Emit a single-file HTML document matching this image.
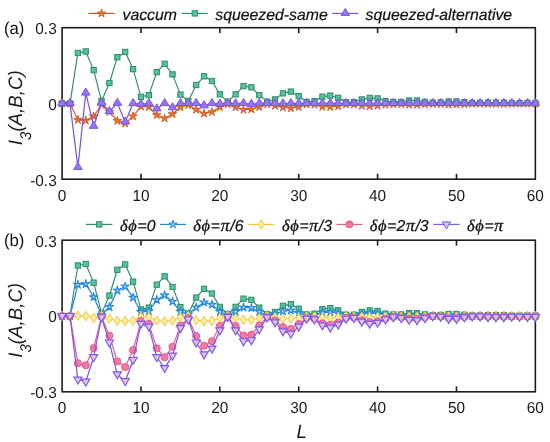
<!DOCTYPE html>
<html lang="en">
<head>
<meta charset="utf-8">
<title>I3(A,B,C) versus L</title>
<style>
html,body{margin:0;padding:0;background:#ffffff;}
body{width:550px;height:442px;overflow:hidden;}
svg{display:block;}
svg text{font-family:"Liberation Sans",sans-serif;fill:#1a1a1a;text-rendering:geometricPrecision;}
.tk text{font-size:15.4px;}
.lg text{font-size:15.8px;font-style:italic;fill:#111111;stroke:#111111;stroke-width:0.22px;}
.lab{font-size:18.7px;font-style:italic;}
.sub{font-size:15px;}
.gk{font-family:"Liberation Serif",serif;font-size:16.4px;letter-spacing:0.7px;font-weight:normal;stroke:#111111;stroke-width:0.3px;}
.pi{font-size:17.6px;}
.pl{font-size:16.8px;fill:#111111;}
</style>
</head>
<body>
<svg width="550" height="442" viewBox="0 0 550 442">
<rect width="550" height="442" fill="#ffffff"/>
<g stroke="#1c1c1c" stroke-width="1.6" fill="none" stroke-linecap="butt">
<rect x="62.1" y="27.7" width="473.25" height="151.5"/>
<line x1="140.97" y1="27.7" x2="140.97" y2="33.1"/>
<line x1="140.97" y1="179.2" x2="140.97" y2="173.8"/>
<line x1="219.85" y1="27.7" x2="219.85" y2="33.1"/>
<line x1="219.85" y1="179.2" x2="219.85" y2="173.8"/>
<line x1="298.73" y1="27.7" x2="298.73" y2="33.1"/>
<line x1="298.73" y1="179.2" x2="298.73" y2="173.8"/>
<line x1="377.6" y1="27.7" x2="377.6" y2="33.1"/>
<line x1="377.6" y1="179.2" x2="377.6" y2="173.8"/>
<line x1="456.48" y1="27.7" x2="456.48" y2="33.1"/>
<line x1="456.48" y1="179.2" x2="456.48" y2="173.8"/>
<line x1="62.1" y1="103.45" x2="67.5" y2="103.45"/>
<line x1="535.35" y1="103.45" x2="529.95" y2="103.45"/>
</g>
<g>
<polyline fill="none" stroke="#d2591c" stroke-width="1.15" stroke-linejoin="round" points="62.1,103.45 69.99,103.45 77.88,119.86 85.76,120.62 93.65,116.33 101.54,104.71 109.43,111.78 117.31,120.87 125.2,123.4 133.09,116.33 140.97,106.48 148.86,106.98 156.75,115.06 164.64,118.35 172.53,114.05 180.41,107.24 188.3,104.96 196.19,109.76 204.07,113.55 211.96,112.03 219.85,107.24 227.74,104.21 235.62,107.24 243.51,109.76 251.4,109.26 259.29,106.98 267.18,104.21 275.06,105.72 282.95,107.49 290.84,108.25 298.73,106.98 306.61,104.46 314.5,104.71 322.39,106.73 330.28,106.98 338.16,106.23 346.05,104.46 353.94,104.46 361.83,105.72 369.71,106.23 377.6,105.72 385.49,104.71 393.38,104.21 401.26,104.21 409.15,104.71 417.04,104.71 424.93,104.21 432.81,103.95 440.7,103.95 448.59,104.46 456.48,104.46 464.36,104.21 472.25,103.7 480.14,103.7 488.03,103.95 495.91,103.95 503.8,103.95 511.69,103.7 519.58,103.7 527.46,103.7 535.35,103.7"/>
<g fill="#ee763a" stroke="#d2591c" stroke-width="1.0" stroke-linejoin="miter">
<path stroke-linejoin="round" d="M62.1 99.05L62.92 102.32L66.28 102.09L63.43 103.88L64.69 107.01L62.1 104.85L59.51 107.01L60.77 103.88L57.92 102.09L61.28 102.32Z"/>
<path stroke-linejoin="round" d="M69.99 99.05L70.81 102.32L74.17 102.09L71.32 103.88L72.57 107.01L69.99 104.85L67.4 107.01L68.66 103.88L65.8 102.09L69.16 102.32Z"/>
<path stroke-linejoin="round" d="M77.88 115.46L78.7 118.73L82.06 118.5L79.21 120.3L80.46 123.42L77.88 121.26L75.29 123.42L76.54 120.3L73.69 118.5L77.05 118.73Z"/>
<path stroke-linejoin="round" d="M85.76 116.22L86.59 119.49L89.95 119.26L87.09 121.05L88.35 124.18L85.76 122.02L83.18 124.18L84.43 121.05L81.58 119.26L84.94 119.49Z"/>
<path stroke-linejoin="round" d="M93.65 111.93L94.47 115.19L97.83 114.97L94.98 116.76L96.24 119.89L93.65 117.73L91.06 119.89L92.32 116.76L89.47 114.97L92.83 115.19Z"/>
<path stroke-linejoin="round" d="M101.54 100.31L102.36 103.58L105.72 103.35L102.87 105.15L104.12 108.27L101.54 106.11L98.95 108.27L100.21 105.15L97.35 103.35L100.71 103.58Z"/>
<path stroke-linejoin="round" d="M109.43 107.38L110.25 110.65L113.61 110.42L110.76 112.22L112.01 115.34L109.43 113.18L106.84 115.34L108.09 112.22L105.24 110.42L108.6 110.65Z"/>
<path stroke-linejoin="round" d="M117.31 116.47L118.14 119.74L121.5 119.51L118.64 121.31L119.9 124.43L117.31 122.27L114.73 124.43L115.98 121.31L113.13 119.51L116.49 119.74Z"/>
<path stroke-linejoin="round" d="M125.2 119L126.02 122.26L129.38 122.04L126.53 123.83L127.79 126.96L125.2 124.8L122.61 126.96L123.87 123.83L121.02 122.04L124.38 122.26Z"/>
<path stroke-linejoin="round" d="M133.09 111.93L133.91 115.19L137.27 114.97L134.42 116.76L135.67 119.89L133.09 117.73L130.5 119.89L131.76 116.76L128.9 114.97L132.26 115.19Z"/>
<path stroke-linejoin="round" d="M140.97 102.08L141.8 105.35L145.16 105.12L142.31 106.91L143.56 110.04L140.97 107.88L138.39 110.04L139.64 106.91L136.79 105.12L140.15 105.35Z"/>
<path stroke-linejoin="round" d="M148.86 102.58L149.69 105.85L153.05 105.63L150.19 107.42L151.45 110.54L148.86 108.38L146.28 110.54L147.53 107.42L144.68 105.63L148.04 105.85Z"/>
<path stroke-linejoin="round" d="M156.75 110.66L157.57 113.93L160.93 113.71L158.08 115.5L159.34 118.62L156.75 116.46L154.16 118.62L155.42 115.5L152.57 113.71L155.93 113.93Z"/>
<path stroke-linejoin="round" d="M164.64 113.95L165.46 117.21L168.82 116.99L165.97 118.78L167.22 121.91L164.64 119.75L162.05 121.91L163.31 118.78L160.45 116.99L163.81 117.21Z"/>
<path stroke-linejoin="round" d="M172.53 109.65L173.35 112.92L176.71 112.7L173.86 114.49L175.11 117.61L172.53 115.45L169.94 117.61L171.19 114.49L168.34 112.7L171.7 112.92Z"/>
<path stroke-linejoin="round" d="M180.41 102.84L181.24 106.1L184.6 105.88L181.74 107.67L183 110.8L180.41 108.64L177.83 110.8L179.08 107.67L176.23 105.88L179.59 106.1Z"/>
<path stroke-linejoin="round" d="M188.3 100.56L189.12 103.83L192.48 103.61L189.63 105.4L190.89 108.52L188.3 106.36L185.71 108.52L186.97 105.4L184.12 103.61L187.48 103.83Z"/>
<path stroke-linejoin="round" d="M196.19 105.36L197.01 108.63L200.37 108.4L197.52 110.2L198.77 113.32L196.19 111.16L193.6 113.32L194.86 110.2L192 108.4L195.36 108.63Z"/>
<path stroke-linejoin="round" d="M204.07 109.15L204.9 112.42L208.26 112.19L205.41 113.98L206.66 117.11L204.07 114.95L201.49 117.11L202.74 113.98L199.89 112.19L203.25 112.42Z"/>
<path stroke-linejoin="round" d="M211.96 107.63L212.79 110.9L216.15 110.68L213.29 112.47L214.55 115.59L211.96 113.44L209.38 115.59L210.63 112.47L207.78 110.68L211.14 110.9Z"/>
<path stroke-linejoin="round" d="M219.85 102.84L220.67 106.1L224.03 105.88L221.18 107.67L222.44 110.8L219.85 108.64L217.26 110.8L218.52 107.67L215.67 105.88L219.03 106.1Z"/>
<path stroke-linejoin="round" d="M227.74 99.81L228.56 103.07L231.92 102.85L229.07 104.64L230.32 107.77L227.74 105.61L225.15 107.77L226.41 104.64L223.55 102.85L226.91 103.07Z"/>
<path stroke-linejoin="round" d="M235.62 102.84L236.45 106.1L239.81 105.88L236.96 107.67L238.21 110.8L235.62 108.64L233.04 110.8L234.29 107.67L231.44 105.88L234.8 106.1Z"/>
<path stroke-linejoin="round" d="M243.51 105.36L244.34 108.63L247.7 108.4L244.84 110.2L246.1 113.32L243.51 111.16L240.93 113.32L242.18 110.2L239.33 108.4L242.69 108.63Z"/>
<path stroke-linejoin="round" d="M251.4 104.86L252.22 108.12L255.58 107.9L252.73 109.69L253.99 112.82L251.4 110.66L248.81 112.82L250.07 109.69L247.22 107.9L250.58 108.12Z"/>
<path stroke-linejoin="round" d="M259.29 102.58L260.11 105.85L263.47 105.63L260.62 107.42L261.87 110.54L259.29 108.38L256.7 110.54L257.96 107.42L255.1 105.63L258.46 105.85Z"/>
<path stroke-linejoin="round" d="M267.18 99.81L268 103.07L271.36 102.85L268.51 104.64L269.76 107.77L267.18 105.61L264.59 107.77L265.84 104.64L262.99 102.85L266.35 103.07Z"/>
<path stroke-linejoin="round" d="M275.06 101.32L275.89 104.59L279.25 104.36L276.39 106.16L277.65 109.28L275.06 107.12L272.48 109.28L273.73 106.16L270.88 104.36L274.24 104.59Z"/>
<path stroke-linejoin="round" d="M282.95 103.09L283.77 106.36L287.13 106.13L284.28 107.92L285.54 111.05L282.95 108.89L280.36 111.05L281.62 107.92L278.77 106.13L282.13 106.36Z"/>
<path stroke-linejoin="round" d="M290.84 103.85L291.66 107.11L295.02 106.89L292.17 108.68L293.42 111.81L290.84 109.65L288.25 111.81L289.51 108.68L286.65 106.89L290.01 107.11Z"/>
<path stroke-linejoin="round" d="M298.73 102.58L299.55 105.85L302.91 105.63L300.06 107.42L301.31 110.54L298.73 108.38L296.14 110.54L297.39 107.42L294.54 105.63L297.9 105.85Z"/>
<path stroke-linejoin="round" d="M306.61 100.06L307.44 103.33L310.8 103.1L307.94 104.89L309.2 108.02L306.61 105.86L304.03 108.02L305.28 104.89L302.43 103.1L305.79 103.33Z"/>
<path stroke-linejoin="round" d="M314.5 100.31L315.32 103.58L318.68 103.35L315.83 105.15L317.09 108.27L314.5 106.11L311.91 108.27L313.17 105.15L310.32 103.35L313.68 103.58Z"/>
<path stroke-linejoin="round" d="M322.39 102.33L323.21 105.6L326.57 105.37L323.72 107.17L324.97 110.29L322.39 108.13L319.8 110.29L321.06 107.17L318.2 105.37L321.56 105.6Z"/>
<path stroke-linejoin="round" d="M330.28 102.58L331.1 105.85L334.46 105.63L331.61 107.42L332.86 110.54L330.28 108.38L327.69 110.54L328.94 107.42L326.09 105.63L329.45 105.85Z"/>
<path stroke-linejoin="round" d="M338.16 101.83L338.99 105.09L342.35 104.87L339.49 106.66L340.75 109.79L338.16 107.63L335.58 109.79L336.83 106.66L333.98 104.87L337.34 105.09Z"/>
<path stroke-linejoin="round" d="M346.05 100.06L346.87 103.33L350.23 103.1L347.38 104.89L348.64 108.02L346.05 105.86L343.46 108.02L344.72 104.89L341.87 103.1L345.23 103.33Z"/>
<path stroke-linejoin="round" d="M353.94 100.06L354.76 103.33L358.12 103.1L355.27 104.89L356.52 108.02L353.94 105.86L351.35 108.02L352.61 104.89L349.75 103.1L353.11 103.33Z"/>
<path stroke-linejoin="round" d="M361.83 101.32L362.65 104.59L366.01 104.36L363.16 106.16L364.41 109.28L361.83 107.12L359.24 109.28L360.49 106.16L357.64 104.36L361 104.59Z"/>
<path stroke-linejoin="round" d="M369.71 101.83L370.54 105.09L373.9 104.87L371.04 106.66L372.3 109.79L369.71 107.63L367.13 109.79L368.38 106.66L365.53 104.87L368.89 105.09Z"/>
<path stroke-linejoin="round" d="M377.6 101.32L378.42 104.59L381.78 104.36L378.93 106.16L380.19 109.28L377.6 107.12L375.01 109.28L376.27 106.16L373.42 104.36L376.78 104.59Z"/>
<path stroke-linejoin="round" d="M385.49 100.31L386.31 103.58L389.67 103.35L386.82 105.15L388.07 108.27L385.49 106.11L382.9 108.27L384.16 105.15L381.3 103.35L384.66 103.58Z"/>
<path stroke-linejoin="round" d="M393.38 99.81L394.2 103.07L397.56 102.85L394.71 104.64L395.96 107.77L393.38 105.61L390.79 107.77L392.04 104.64L389.19 102.85L392.55 103.07Z"/>
<path stroke-linejoin="round" d="M401.26 99.81L402.09 103.07L405.45 102.85L402.59 104.64L403.85 107.77L401.26 105.61L398.68 107.77L399.93 104.64L397.08 102.85L400.44 103.07Z"/>
<path stroke-linejoin="round" d="M409.15 100.31L409.97 103.58L413.33 103.35L410.48 105.15L411.74 108.27L409.15 106.11L406.56 108.27L407.82 105.15L404.97 103.35L408.33 103.58Z"/>
<path stroke-linejoin="round" d="M417.04 100.31L417.86 103.58L421.22 103.35L418.37 105.15L419.62 108.27L417.04 106.11L414.45 108.27L415.71 105.15L412.85 103.35L416.21 103.58Z"/>
<path stroke-linejoin="round" d="M424.93 99.81L425.75 103.07L429.11 102.85L426.26 104.64L427.51 107.77L424.93 105.61L422.34 107.77L423.59 104.64L420.74 102.85L424.1 103.07Z"/>
<path stroke-linejoin="round" d="M432.81 99.55L433.64 102.82L437 102.6L434.14 104.39L435.4 107.51L432.81 105.35L430.23 107.51L431.48 104.39L428.63 102.6L431.99 102.82Z"/>
<path stroke-linejoin="round" d="M440.7 99.55L441.52 102.82L444.88 102.6L442.03 104.39L443.29 107.51L440.7 105.35L438.11 107.51L439.37 104.39L436.52 102.6L439.88 102.82Z"/>
<path stroke-linejoin="round" d="M448.59 100.06L449.41 103.33L452.77 103.1L449.92 104.89L451.17 108.02L448.59 105.86L446 108.02L447.26 104.89L444.4 103.1L447.76 103.33Z"/>
<path stroke-linejoin="round" d="M456.48 100.06L457.3 103.33L460.66 103.1L457.81 104.89L459.06 108.02L456.48 105.86L453.89 108.02L455.14 104.89L452.29 103.1L455.65 103.33Z"/>
<path stroke-linejoin="round" d="M464.36 99.81L465.19 103.07L468.55 102.85L465.69 104.64L466.95 107.77L464.36 105.61L461.78 107.77L463.03 104.64L460.18 102.85L463.54 103.07Z"/>
<path stroke-linejoin="round" d="M472.25 99.3L473.07 102.57L476.43 102.34L473.58 104.14L474.84 107.26L472.25 105.1L469.66 107.26L470.92 104.14L468.07 102.34L471.43 102.57Z"/>
<path stroke-linejoin="round" d="M480.14 99.3L480.96 102.57L484.32 102.34L481.47 104.14L482.72 107.26L480.14 105.1L477.55 107.26L478.81 104.14L475.95 102.34L479.31 102.57Z"/>
<path stroke-linejoin="round" d="M488.03 99.55L488.85 102.82L492.21 102.6L489.36 104.39L490.61 107.51L488.03 105.35L485.44 107.51L486.69 104.39L483.84 102.6L487.2 102.82Z"/>
<path stroke-linejoin="round" d="M495.91 99.55L496.74 102.82L500.1 102.6L497.24 104.39L498.5 107.51L495.91 105.35L493.33 107.51L494.58 104.39L491.73 102.6L495.09 102.82Z"/>
<path stroke-linejoin="round" d="M503.8 99.55L504.62 102.82L507.98 102.6L505.13 104.39L506.39 107.51L503.8 105.35L501.21 107.51L502.47 104.39L499.62 102.6L502.98 102.82Z"/>
<path stroke-linejoin="round" d="M511.69 99.3L512.51 102.57L515.87 102.34L513.02 104.14L514.27 107.26L511.69 105.1L509.1 107.26L510.36 104.14L507.5 102.34L510.86 102.57Z"/>
<path stroke-linejoin="round" d="M519.58 99.3L520.4 102.57L523.76 102.34L520.91 104.14L522.16 107.26L519.58 105.1L516.99 107.26L518.24 104.14L515.39 102.34L518.75 102.57Z"/>
<path stroke-linejoin="round" d="M527.46 99.3L528.29 102.57L531.65 102.34L528.79 104.14L530.05 107.26L527.46 105.1L524.88 107.26L526.13 104.14L523.28 102.34L526.64 102.57Z"/>
<path stroke-linejoin="round" d="M535.35 99.3L536.17 102.57L539.53 102.34L536.68 104.14L537.94 107.26L535.35 105.1L532.76 107.26L534.02 104.14L531.17 102.34L534.53 102.57Z"/>
</g></g>
<g>
<polyline fill="none" stroke="#2f8c69" stroke-width="1.15" stroke-linejoin="round" points="62.1,103.45 69.99,103.45 77.88,52.95 85.76,51.43 93.65,70.12 101.54,100.92 109.43,83 117.31,57.24 125.2,51.94 133.09,69.11 140.97,96.88 148.86,95.12 156.75,72.14 164.64,63.81 172.53,74.41 180.41,94.61 188.3,100.92 196.19,85.02 204.07,76.31 211.96,80.98 219.85,94.36 227.74,101.68 235.62,94.36 243.51,86.15 251.4,87.29 259.29,95.12 267.18,101.68 275.06,99.41 282.95,93.35 290.84,91.58 298.73,96.13 306.61,101.93 314.5,101.18 322.39,96.63 330.28,95.62 338.16,97.77 346.05,102.19 353.94,102.19 361.83,99.41 369.71,97.89 377.6,98.4 385.49,101.18 393.38,101.93 401.26,101.93 409.15,100.55 417.04,100.55 424.93,101.93 432.81,102.69 440.7,102.44 448.59,101.48 456.48,101.48 464.36,102.19 472.25,102.94 480.14,102.94 488.03,102.57 495.91,102.57 503.8,102.69 511.69,103.07 519.58,103.07 527.46,102.94 535.35,102.94"/>
<g fill="#53c49c" stroke="#2f8c69" stroke-width="1.0" stroke-linejoin="miter">
<rect x="59.45" y="100.8" width="5.3" height="5.3"/>
<rect x="67.34" y="100.8" width="5.3" height="5.3"/>
<rect x="75.22" y="50.3" width="5.3" height="5.3"/>
<rect x="83.11" y="48.78" width="5.3" height="5.3"/>
<rect x="91" y="67.47" width="5.3" height="5.3"/>
<rect x="98.89" y="98.27" width="5.3" height="5.3"/>
<rect x="106.78" y="80.35" width="5.3" height="5.3"/>
<rect x="114.66" y="54.59" width="5.3" height="5.3"/>
<rect x="122.55" y="49.29" width="5.3" height="5.3"/>
<rect x="130.44" y="66.46" width="5.3" height="5.3"/>
<rect x="138.32" y="94.23" width="5.3" height="5.3"/>
<rect x="146.21" y="92.47" width="5.3" height="5.3"/>
<rect x="154.1" y="69.49" width="5.3" height="5.3"/>
<rect x="161.99" y="61.16" width="5.3" height="5.3"/>
<rect x="169.88" y="71.76" width="5.3" height="5.3"/>
<rect x="177.76" y="91.96" width="5.3" height="5.3"/>
<rect x="185.65" y="98.27" width="5.3" height="5.3"/>
<rect x="193.54" y="82.37" width="5.3" height="5.3"/>
<rect x="201.42" y="73.66" width="5.3" height="5.3"/>
<rect x="209.31" y="78.33" width="5.3" height="5.3"/>
<rect x="217.2" y="91.71" width="5.3" height="5.3"/>
<rect x="225.09" y="99.03" width="5.3" height="5.3"/>
<rect x="232.97" y="91.71" width="5.3" height="5.3"/>
<rect x="240.86" y="83.5" width="5.3" height="5.3"/>
<rect x="248.75" y="84.64" width="5.3" height="5.3"/>
<rect x="256.64" y="92.47" width="5.3" height="5.3"/>
<rect x="264.53" y="99.03" width="5.3" height="5.3"/>
<rect x="272.41" y="96.76" width="5.3" height="5.3"/>
<rect x="280.3" y="90.7" width="5.3" height="5.3"/>
<rect x="288.19" y="88.93" width="5.3" height="5.3"/>
<rect x="296.08" y="93.48" width="5.3" height="5.3"/>
<rect x="303.96" y="99.28" width="5.3" height="5.3"/>
<rect x="311.85" y="98.53" width="5.3" height="5.3"/>
<rect x="319.74" y="93.98" width="5.3" height="5.3"/>
<rect x="327.63" y="92.97" width="5.3" height="5.3"/>
<rect x="335.51" y="95.12" width="5.3" height="5.3"/>
<rect x="343.4" y="99.54" width="5.3" height="5.3"/>
<rect x="351.29" y="99.54" width="5.3" height="5.3"/>
<rect x="359.18" y="96.76" width="5.3" height="5.3"/>
<rect x="367.06" y="95.24" width="5.3" height="5.3"/>
<rect x="374.95" y="95.75" width="5.3" height="5.3"/>
<rect x="382.84" y="98.53" width="5.3" height="5.3"/>
<rect x="390.73" y="99.28" width="5.3" height="5.3"/>
<rect x="398.61" y="99.28" width="5.3" height="5.3"/>
<rect x="406.5" y="97.9" width="5.3" height="5.3"/>
<rect x="414.39" y="97.9" width="5.3" height="5.3"/>
<rect x="422.28" y="99.28" width="5.3" height="5.3"/>
<rect x="430.16" y="100.04" width="5.3" height="5.3"/>
<rect x="438.05" y="99.79" width="5.3" height="5.3"/>
<rect x="445.94" y="98.83" width="5.3" height="5.3"/>
<rect x="453.83" y="98.83" width="5.3" height="5.3"/>
<rect x="461.71" y="99.54" width="5.3" height="5.3"/>
<rect x="469.6" y="100.29" width="5.3" height="5.3"/>
<rect x="477.49" y="100.29" width="5.3" height="5.3"/>
<rect x="485.38" y="99.92" width="5.3" height="5.3"/>
<rect x="493.26" y="99.92" width="5.3" height="5.3"/>
<rect x="501.15" y="100.04" width="5.3" height="5.3"/>
<rect x="509.04" y="100.42" width="5.3" height="5.3"/>
<rect x="516.93" y="100.42" width="5.3" height="5.3"/>
<rect x="524.81" y="100.29" width="5.3" height="5.3"/>
<rect x="532.7" y="100.29" width="5.3" height="5.3"/>
</g></g>
<g>
<polyline fill="none" stroke="#7a55e6" stroke-width="1.25" stroke-linejoin="round" points="62.1,103.45 69.99,103.45 77.88,167.33 85.76,92.97 93.65,126.17 101.54,103.2 109.43,111.53 117.31,103.2 125.2,121.88 133.09,103.45 140.97,104.21 148.86,103.45 156.75,108.75 164.64,103.45 172.53,107.62 180.41,103.45 188.3,103.45 196.19,103.45 204.07,105.72 211.96,103.45 219.85,103.95 227.74,103.45 235.62,103.7 243.51,103.45 251.4,104.21 259.29,103.45 267.18,103.45 275.06,103.45 282.95,103.7 290.84,103.45 298.73,103.45 306.61,103.45 314.5,103.45 322.39,103.45 330.28,103.45 338.16,103.45 346.05,103.45 353.94,103.45 361.83,103.45 369.71,103.45 377.6,103.45 385.49,103.45 393.38,103.45 401.26,103.45 409.15,103.45 417.04,103.45 424.93,103.45 432.81,103.45 440.7,103.45 448.59,103.45 456.48,103.45 464.36,103.45 472.25,103.45 480.14,103.45 488.03,103.45 495.91,103.45 503.8,103.45 511.69,103.45 519.58,103.45 527.46,103.45 535.35,103.45"/>
<g fill="#9873f2" stroke="#7a55e6" stroke-width="1.0" stroke-linejoin="miter">
<path d="M62.1 98.5L66.4 105.6L57.8 105.6Z"/>
<path d="M69.99 98.5L74.29 105.6L65.69 105.6Z"/>
<path d="M77.88 162.38L82.17 169.48L73.58 169.48Z"/>
<path d="M85.76 88.02L90.06 95.12L81.46 95.12Z"/>
<path d="M93.65 121.22L97.95 128.32L89.35 128.32Z"/>
<path d="M101.54 98.25L105.84 105.35L97.24 105.35Z"/>
<path d="M109.43 106.58L113.73 113.68L105.13 113.68Z"/>
<path d="M117.31 98.25L121.61 105.35L113.01 105.35Z"/>
<path d="M125.2 116.93L129.5 124.03L120.9 124.03Z"/>
<path d="M133.09 98.5L137.39 105.6L128.79 105.6Z"/>
<path d="M140.97 99.26L145.28 106.36L136.67 106.36Z"/>
<path d="M148.86 98.5L153.16 105.6L144.56 105.6Z"/>
<path d="M156.75 103.8L161.05 110.9L152.45 110.9Z"/>
<path d="M164.64 98.5L168.94 105.6L160.34 105.6Z"/>
<path d="M172.53 102.67L176.83 109.77L168.22 109.77Z"/>
<path d="M180.41 98.5L184.71 105.6L176.11 105.6Z"/>
<path d="M188.3 98.5L192.6 105.6L184 105.6Z"/>
<path d="M196.19 98.5L200.49 105.6L191.89 105.6Z"/>
<path d="M204.07 100.77L208.38 107.87L199.77 107.87Z"/>
<path d="M211.96 98.5L216.26 105.6L207.66 105.6Z"/>
<path d="M219.85 99L224.15 106.1L215.55 106.1Z"/>
<path d="M227.74 98.5L232.04 105.6L223.44 105.6Z"/>
<path d="M235.62 98.75L239.93 105.85L231.32 105.85Z"/>
<path d="M243.51 98.5L247.81 105.6L239.21 105.6Z"/>
<path d="M251.4 99.26L255.7 106.36L247.1 106.36Z"/>
<path d="M259.29 98.5L263.59 105.6L254.99 105.6Z"/>
<path d="M267.18 98.5L271.48 105.6L262.88 105.6Z"/>
<path d="M275.06 98.5L279.36 105.6L270.76 105.6Z"/>
<path d="M282.95 98.75L287.25 105.85L278.65 105.85Z"/>
<path d="M290.84 98.5L295.14 105.6L286.54 105.6Z"/>
<path d="M298.73 98.5L303.03 105.6L294.43 105.6Z"/>
<path d="M306.61 98.5L310.91 105.6L302.31 105.6Z"/>
<path d="M314.5 98.5L318.8 105.6L310.2 105.6Z"/>
<path d="M322.39 98.5L326.69 105.6L318.09 105.6Z"/>
<path d="M330.28 98.5L334.58 105.6L325.98 105.6Z"/>
<path d="M338.16 98.5L342.46 105.6L333.86 105.6Z"/>
<path d="M346.05 98.5L350.35 105.6L341.75 105.6Z"/>
<path d="M353.94 98.5L358.24 105.6L349.64 105.6Z"/>
<path d="M361.83 98.5L366.13 105.6L357.53 105.6Z"/>
<path d="M369.71 98.5L374.01 105.6L365.41 105.6Z"/>
<path d="M377.6 98.5L381.9 105.6L373.3 105.6Z"/>
<path d="M385.49 98.5L389.79 105.6L381.19 105.6Z"/>
<path d="M393.38 98.5L397.68 105.6L389.08 105.6Z"/>
<path d="M401.26 98.5L405.56 105.6L396.96 105.6Z"/>
<path d="M409.15 98.5L413.45 105.6L404.85 105.6Z"/>
<path d="M417.04 98.5L421.34 105.6L412.74 105.6Z"/>
<path d="M424.93 98.5L429.23 105.6L420.62 105.6Z"/>
<path d="M432.81 98.5L437.11 105.6L428.51 105.6Z"/>
<path d="M440.7 98.5L445 105.6L436.4 105.6Z"/>
<path d="M448.59 98.5L452.89 105.6L444.29 105.6Z"/>
<path d="M456.48 98.5L460.78 105.6L452.18 105.6Z"/>
<path d="M464.36 98.5L468.66 105.6L460.06 105.6Z"/>
<path d="M472.25 98.5L476.55 105.6L467.95 105.6Z"/>
<path d="M480.14 98.5L484.44 105.6L475.84 105.6Z"/>
<path d="M488.03 98.5L492.33 105.6L483.73 105.6Z"/>
<path d="M495.91 98.5L500.21 105.6L491.61 105.6Z"/>
<path d="M503.8 98.5L508.1 105.6L499.5 105.6Z"/>
<path d="M511.69 98.5L515.99 105.6L507.39 105.6Z"/>
<path d="M519.58 98.5L523.88 105.6L515.28 105.6Z"/>
<path d="M527.46 98.5L531.76 105.6L523.16 105.6Z"/>
<path d="M535.35 98.5L539.65 105.6L531.05 105.6Z"/>
</g></g>
<g class="tk">
<text transform="translate(62.1 200.75) scale(1 1.03)" class="tkl" text-anchor="middle">0</text>
<text transform="translate(140.97 200.75) scale(1 1.03)" class="tkl" text-anchor="middle">10</text>
<text transform="translate(219.85 200.75) scale(1 1.03)" class="tkl" text-anchor="middle">20</text>
<text transform="translate(298.73 200.75) scale(1 1.03)" class="tkl" text-anchor="middle">30</text>
<text transform="translate(377.6 200.75) scale(1 1.03)" class="tkl" text-anchor="middle">40</text>
<text transform="translate(456.48 200.75) scale(1 1.03)" class="tkl" text-anchor="middle">50</text>
<text transform="translate(535.35 200.75) scale(1 1.03)" class="tkl" text-anchor="middle">60</text>
<text transform="translate(56.7 34) scale(1 1.03)" class="tkl" text-anchor="end">0.3</text>
<text transform="translate(56.7 109.75) scale(1 1.03)" class="tkl" text-anchor="end">0</text>
<text transform="translate(56.7 185.5) scale(1 1.03)" class="tkl" text-anchor="end">-0.3</text>
</g>
<text transform="translate(21.6 107.75) rotate(-90) scale(1 1.04)" class="lab" text-anchor="middle">I<tspan class="sub" dy="9.2">3</tspan><tspan dy="-9.2">(A,B,C)</tspan></text>
<text transform="translate(3.9 34.1) scale(1 1.02)" class="pl">(a)</text>
<line x1="88.4" y1="13.4" x2="114.6" y2="13.4" stroke="#d2591c" stroke-width="1.15"/><g fill="#ee763a" stroke="#d2591c" stroke-width="1"><path stroke-linejoin="round" d="M101.5 9L102.32 12.27L105.68 12.04L102.83 13.83L104.09 16.96L101.5 14.8L98.91 16.96L100.17 13.83L97.32 12.04L100.68 12.27Z"/></g>
<line x1="181.8" y1="13.4" x2="207.8" y2="13.4" stroke="#2f8c69" stroke-width="1.15"/><g fill="#53c49c" stroke="#2f8c69" stroke-width="1"><rect x="192.15" y="10.75" width="5.3" height="5.3"/></g>
<line x1="332.2" y1="13.4" x2="358.3" y2="13.4" stroke="#7a55e6" stroke-width="1.15"/><g fill="#9873f2" stroke="#7a55e6" stroke-width="1"><path d="M345.25 8.45L349.55 15.55L340.95 15.55Z"/></g>
<g class="lg">
<text transform="translate(122.5 20.25)">vaccum</text>
<text transform="translate(215.3 20.25)">squeezed-same</text>
<text transform="translate(365.5 20.25)">squeezed-alternative</text>
</g>
<g stroke="#1c1c1c" stroke-width="1.6" fill="none" stroke-linecap="butt">
<rect x="62.1" y="240.2" width="473.25" height="151.6"/>
<line x1="140.97" y1="240.2" x2="140.97" y2="245.6"/>
<line x1="140.97" y1="391.8" x2="140.97" y2="386.4"/>
<line x1="219.85" y1="240.2" x2="219.85" y2="245.6"/>
<line x1="219.85" y1="391.8" x2="219.85" y2="386.4"/>
<line x1="298.73" y1="240.2" x2="298.73" y2="245.6"/>
<line x1="298.73" y1="391.8" x2="298.73" y2="386.4"/>
<line x1="377.6" y1="240.2" x2="377.6" y2="245.6"/>
<line x1="377.6" y1="391.8" x2="377.6" y2="386.4"/>
<line x1="456.48" y1="240.2" x2="456.48" y2="245.6"/>
<line x1="456.48" y1="391.8" x2="456.48" y2="386.4"/>
<line x1="62.1" y1="316" x2="67.5" y2="316"/>
<line x1="535.35" y1="316" x2="529.95" y2="316"/>
</g>
<g>
<polyline fill="none" stroke="#2f8c69" stroke-width="1.15" stroke-linejoin="round" points="62.1,316 69.99,316 77.88,265.47 85.76,263.95 93.65,282.65 101.54,313.47 109.43,295.53 117.31,269.76 125.2,264.46 133.09,281.64 140.97,309.43 148.86,307.66 156.75,284.67 164.64,276.33 172.53,286.94 180.41,307.16 188.3,313.47 196.19,297.56 204.07,288.84 211.96,293.51 219.85,306.9 227.74,314.23 235.62,306.9 243.51,298.69 251.4,299.83 259.29,307.66 267.18,314.23 275.06,311.96 282.95,305.89 290.84,304.12 298.73,308.67 306.61,314.48 314.5,313.73 322.39,309.18 330.28,308.17 338.16,310.31 346.05,314.74 353.94,314.74 361.83,311.96 369.71,310.44 377.6,310.95 385.49,313.73 393.38,314.48 401.26,314.48 409.15,313.09 417.04,313.09 424.93,314.48 432.81,315.24 440.7,314.99 448.59,314.03 456.48,314.03 464.36,314.74 472.25,315.49 480.14,315.49 488.03,315.12 495.91,315.12 503.8,315.24 511.69,315.62 519.58,315.62 527.46,315.49 535.35,315.49"/>
<g fill="#53c49c" stroke="#2f8c69" stroke-width="1.0" stroke-linejoin="miter">
<rect x="59.45" y="313.35" width="5.3" height="5.3"/>
<rect x="67.34" y="313.35" width="5.3" height="5.3"/>
<rect x="75.22" y="262.82" width="5.3" height="5.3"/>
<rect x="83.11" y="261.3" width="5.3" height="5.3"/>
<rect x="91" y="280" width="5.3" height="5.3"/>
<rect x="98.89" y="310.82" width="5.3" height="5.3"/>
<rect x="106.78" y="292.88" width="5.3" height="5.3"/>
<rect x="114.66" y="267.11" width="5.3" height="5.3"/>
<rect x="122.55" y="261.81" width="5.3" height="5.3"/>
<rect x="130.44" y="278.99" width="5.3" height="5.3"/>
<rect x="138.32" y="306.78" width="5.3" height="5.3"/>
<rect x="146.21" y="305.01" width="5.3" height="5.3"/>
<rect x="154.1" y="282.02" width="5.3" height="5.3"/>
<rect x="161.99" y="273.68" width="5.3" height="5.3"/>
<rect x="169.88" y="284.29" width="5.3" height="5.3"/>
<rect x="177.76" y="304.51" width="5.3" height="5.3"/>
<rect x="185.65" y="310.82" width="5.3" height="5.3"/>
<rect x="193.54" y="294.91" width="5.3" height="5.3"/>
<rect x="201.42" y="286.19" width="5.3" height="5.3"/>
<rect x="209.31" y="290.86" width="5.3" height="5.3"/>
<rect x="217.2" y="304.25" width="5.3" height="5.3"/>
<rect x="225.09" y="311.58" width="5.3" height="5.3"/>
<rect x="232.97" y="304.25" width="5.3" height="5.3"/>
<rect x="240.86" y="296.04" width="5.3" height="5.3"/>
<rect x="248.75" y="297.18" width="5.3" height="5.3"/>
<rect x="256.64" y="305.01" width="5.3" height="5.3"/>
<rect x="264.53" y="311.58" width="5.3" height="5.3"/>
<rect x="272.41" y="309.31" width="5.3" height="5.3"/>
<rect x="280.3" y="303.24" width="5.3" height="5.3"/>
<rect x="288.19" y="301.47" width="5.3" height="5.3"/>
<rect x="296.08" y="306.02" width="5.3" height="5.3"/>
<rect x="303.96" y="311.83" width="5.3" height="5.3"/>
<rect x="311.85" y="311.08" width="5.3" height="5.3"/>
<rect x="319.74" y="306.53" width="5.3" height="5.3"/>
<rect x="327.63" y="305.52" width="5.3" height="5.3"/>
<rect x="335.51" y="307.67" width="5.3" height="5.3"/>
<rect x="343.4" y="312.09" width="5.3" height="5.3"/>
<rect x="351.29" y="312.09" width="5.3" height="5.3"/>
<rect x="359.18" y="309.31" width="5.3" height="5.3"/>
<rect x="367.06" y="307.79" width="5.3" height="5.3"/>
<rect x="374.95" y="308.3" width="5.3" height="5.3"/>
<rect x="382.84" y="311.08" width="5.3" height="5.3"/>
<rect x="390.73" y="311.83" width="5.3" height="5.3"/>
<rect x="398.61" y="311.83" width="5.3" height="5.3"/>
<rect x="406.5" y="310.44" width="5.3" height="5.3"/>
<rect x="414.39" y="310.44" width="5.3" height="5.3"/>
<rect x="422.28" y="311.83" width="5.3" height="5.3"/>
<rect x="430.16" y="312.59" width="5.3" height="5.3"/>
<rect x="438.05" y="312.34" width="5.3" height="5.3"/>
<rect x="445.94" y="311.38" width="5.3" height="5.3"/>
<rect x="453.83" y="311.38" width="5.3" height="5.3"/>
<rect x="461.71" y="312.09" width="5.3" height="5.3"/>
<rect x="469.6" y="312.84" width="5.3" height="5.3"/>
<rect x="477.49" y="312.84" width="5.3" height="5.3"/>
<rect x="485.38" y="312.47" width="5.3" height="5.3"/>
<rect x="493.26" y="312.47" width="5.3" height="5.3"/>
<rect x="501.15" y="312.59" width="5.3" height="5.3"/>
<rect x="509.04" y="312.97" width="5.3" height="5.3"/>
<rect x="516.93" y="312.97" width="5.3" height="5.3"/>
<rect x="524.81" y="312.84" width="5.3" height="5.3"/>
<rect x="532.7" y="312.84" width="5.3" height="5.3"/>
</g></g>
<g>
<polyline fill="none" stroke="#2389dc" stroke-width="1.25" stroke-linejoin="round" points="62.1,316 69.99,316 77.88,284.67 85.76,283.91 93.65,297.05 101.54,314.74 109.43,306.9 117.31,290.48 125.2,286.44 133.09,297.56 140.97,311.96 148.86,311.2 156.75,299.83 164.64,295.28 172.53,301.6 180.41,311.7 188.3,314.48 196.19,307.41 204.07,302.36 211.96,304.63 219.85,311.7 227.74,314.99 235.62,311.7 243.51,307.41 251.4,307.91 259.29,311.7 267.18,315.24 275.06,313.98 282.95,311.2 290.84,310.44 298.73,313.22 306.61,315.49 314.5,315.24 322.39,312.72 330.28,312.21 338.16,313.22 346.05,315.49 353.94,315.49 361.83,313.98 369.71,313.22 377.6,313.47 385.49,314.99 393.38,315.49 401.26,315.49 409.15,314.99 417.04,314.99 424.93,315.75 432.81,316 440.7,316 448.59,315.49 456.48,315.49 464.36,315.75 472.25,316 480.14,316 488.03,316 495.91,316 503.8,316 511.69,316 519.58,316 527.46,316 535.35,316"/>
<g fill="#b4cdf6" stroke="#2389dc" stroke-width="1.1" stroke-linejoin="miter">
<path stroke-linejoin="round" d="M62.1 311.6L62.92 314.87L66.28 314.64L63.43 316.43L64.69 319.56L62.1 317.4L59.51 319.56L60.77 316.43L57.92 314.64L61.28 314.87Z"/>
<path stroke-linejoin="round" d="M69.99 311.6L70.81 314.87L74.17 314.64L71.32 316.43L72.57 319.56L69.99 317.4L67.4 319.56L68.66 316.43L65.8 314.64L69.16 314.87Z"/>
<path stroke-linejoin="round" d="M77.88 280.27L78.7 283.54L82.06 283.31L79.21 285.1L80.46 288.23L77.88 286.07L75.29 288.23L76.54 285.1L73.69 283.31L77.05 283.54Z"/>
<path stroke-linejoin="round" d="M85.76 279.51L86.59 282.78L89.95 282.55L87.09 284.34L88.35 287.47L85.76 285.31L83.18 287.47L84.43 284.34L81.58 282.55L84.94 282.78Z"/>
<path stroke-linejoin="round" d="M93.65 292.65L94.47 295.92L97.83 295.69L94.98 297.48L96.24 300.61L93.65 298.45L91.06 300.61L92.32 297.48L89.47 295.69L92.83 295.92Z"/>
<path stroke-linejoin="round" d="M101.54 310.34L102.36 313.6L105.72 313.38L102.87 315.17L104.12 318.3L101.54 316.14L98.95 318.3L100.21 315.17L97.35 313.38L100.71 313.6Z"/>
<path stroke-linejoin="round" d="M109.43 302.5L110.25 305.77L113.61 305.54L110.76 307.34L112.01 310.46L109.43 308.3L106.84 310.46L108.09 307.34L105.24 305.54L108.6 305.77Z"/>
<path stroke-linejoin="round" d="M117.31 286.08L118.14 289.35L121.5 289.12L118.64 290.91L119.9 294.04L117.31 291.88L114.73 294.04L115.98 290.91L113.13 289.12L116.49 289.35Z"/>
<path stroke-linejoin="round" d="M125.2 282.04L126.02 285.31L129.38 285.08L126.53 286.87L127.79 290L125.2 287.84L122.61 290L123.87 286.87L121.02 285.08L124.38 285.31Z"/>
<path stroke-linejoin="round" d="M133.09 293.16L133.91 296.42L137.27 296.2L134.42 297.99L135.67 301.12L133.09 298.96L130.5 301.12L131.76 297.99L128.9 296.2L132.26 296.42Z"/>
<path stroke-linejoin="round" d="M140.97 307.56L141.8 310.82L145.16 310.6L142.31 312.39L143.56 315.52L140.97 313.36L138.39 315.52L139.64 312.39L136.79 310.6L140.15 310.82Z"/>
<path stroke-linejoin="round" d="M148.86 306.8L149.69 310.07L153.05 309.84L150.19 311.63L151.45 314.76L148.86 312.6L146.28 314.76L147.53 311.63L144.68 309.84L148.04 310.07Z"/>
<path stroke-linejoin="round" d="M156.75 295.43L157.57 298.7L160.93 298.47L158.08 300.26L159.34 303.39L156.75 301.23L154.16 303.39L155.42 300.26L152.57 298.47L155.93 298.7Z"/>
<path stroke-linejoin="round" d="M164.64 290.88L165.46 294.15L168.82 293.92L165.97 295.71L167.22 298.84L164.64 296.68L162.05 298.84L163.31 295.71L160.45 293.92L163.81 294.15Z"/>
<path stroke-linejoin="round" d="M172.53 297.2L173.35 300.47L176.71 300.24L173.86 302.03L175.11 305.16L172.53 303L169.94 305.16L171.19 302.03L168.34 300.24L171.7 300.47Z"/>
<path stroke-linejoin="round" d="M180.41 307.3L181.24 310.57L184.6 310.34L181.74 312.14L183 315.26L180.41 313.1L177.83 315.26L179.08 312.14L176.23 310.34L179.59 310.57Z"/>
<path stroke-linejoin="round" d="M188.3 310.08L189.12 313.35L192.48 313.12L189.63 314.92L190.89 318.04L188.3 315.88L185.71 318.04L186.97 314.92L184.12 313.12L187.48 313.35Z"/>
<path stroke-linejoin="round" d="M196.19 303.01L197.01 306.28L200.37 306.05L197.52 307.84L198.77 310.97L196.19 308.81L193.6 310.97L194.86 307.84L192 306.05L195.36 306.28Z"/>
<path stroke-linejoin="round" d="M204.07 297.96L204.9 301.22L208.26 301L205.41 302.79L206.66 305.92L204.07 303.76L201.49 305.92L202.74 302.79L199.89 301L203.25 301.22Z"/>
<path stroke-linejoin="round" d="M211.96 300.23L212.79 303.5L216.15 303.27L213.29 305.06L214.55 308.19L211.96 306.03L209.38 308.19L210.63 305.06L207.78 303.27L211.14 303.5Z"/>
<path stroke-linejoin="round" d="M219.85 307.3L220.67 310.57L224.03 310.34L221.18 312.14L222.44 315.26L219.85 313.1L217.26 315.26L218.52 312.14L215.67 310.34L219.03 310.57Z"/>
<path stroke-linejoin="round" d="M227.74 310.59L228.56 313.86L231.92 313.63L229.07 315.42L230.32 318.55L227.74 316.39L225.15 318.55L226.41 315.42L223.55 313.63L226.91 313.86Z"/>
<path stroke-linejoin="round" d="M235.62 307.3L236.45 310.57L239.81 310.34L236.96 312.14L238.21 315.26L235.62 313.1L233.04 315.26L234.29 312.14L231.44 310.34L234.8 310.57Z"/>
<path stroke-linejoin="round" d="M243.51 303.01L244.34 306.28L247.7 306.05L244.84 307.84L246.1 310.97L243.51 308.81L240.93 310.97L242.18 307.84L239.33 306.05L242.69 306.28Z"/>
<path stroke-linejoin="round" d="M251.4 303.51L252.22 306.78L255.58 306.55L252.73 308.35L253.99 311.47L251.4 309.31L248.81 311.47L250.07 308.35L247.22 306.55L250.58 306.78Z"/>
<path stroke-linejoin="round" d="M259.29 307.3L260.11 310.57L263.47 310.34L260.62 312.14L261.87 315.26L259.29 313.1L256.7 315.26L257.96 312.14L255.1 310.34L258.46 310.57Z"/>
<path stroke-linejoin="round" d="M267.18 310.84L268 314.11L271.36 313.88L268.51 315.67L269.76 318.8L267.18 316.64L264.59 318.8L265.84 315.67L262.99 313.88L266.35 314.11Z"/>
<path stroke-linejoin="round" d="M275.06 309.58L275.89 312.85L279.25 312.62L276.39 314.41L277.65 317.54L275.06 315.38L272.48 317.54L273.73 314.41L270.88 312.62L274.24 312.85Z"/>
<path stroke-linejoin="round" d="M282.95 306.8L283.77 310.07L287.13 309.84L284.28 311.63L285.54 314.76L282.95 312.6L280.36 314.76L281.62 311.63L278.77 309.84L282.13 310.07Z"/>
<path stroke-linejoin="round" d="M290.84 306.04L291.66 309.31L295.02 309.08L292.17 310.87L293.42 314L290.84 311.84L288.25 314L289.51 310.87L286.65 309.08L290.01 309.31Z"/>
<path stroke-linejoin="round" d="M298.73 308.82L299.55 312.09L302.91 311.86L300.06 313.65L301.31 316.78L298.73 314.62L296.14 316.78L297.39 313.65L294.54 311.86L297.9 312.09Z"/>
<path stroke-linejoin="round" d="M306.61 311.09L307.44 314.36L310.8 314.13L307.94 315.93L309.2 319.05L306.61 316.89L304.03 319.05L305.28 315.93L302.43 314.13L305.79 314.36Z"/>
<path stroke-linejoin="round" d="M314.5 310.84L315.32 314.11L318.68 313.88L315.83 315.67L317.09 318.8L314.5 316.64L311.91 318.8L313.17 315.67L310.32 313.88L313.68 314.11Z"/>
<path stroke-linejoin="round" d="M322.39 308.32L323.21 311.58L326.57 311.36L323.72 313.15L324.97 316.28L322.39 314.12L319.8 316.28L321.06 313.15L318.2 311.36L321.56 311.58Z"/>
<path stroke-linejoin="round" d="M330.28 307.81L331.1 311.08L334.46 310.85L331.61 312.64L332.86 315.77L330.28 313.61L327.69 315.77L328.94 312.64L326.09 310.85L329.45 311.08Z"/>
<path stroke-linejoin="round" d="M338.16 308.82L338.99 312.09L342.35 311.86L339.49 313.65L340.75 316.78L338.16 314.62L335.58 316.78L336.83 313.65L333.98 311.86L337.34 312.09Z"/>
<path stroke-linejoin="round" d="M346.05 311.09L346.87 314.36L350.23 314.13L347.38 315.93L348.64 319.05L346.05 316.89L343.46 319.05L344.72 315.93L341.87 314.13L345.23 314.36Z"/>
<path stroke-linejoin="round" d="M353.94 311.09L354.76 314.36L358.12 314.13L355.27 315.93L356.52 319.05L353.94 316.89L351.35 319.05L352.61 315.93L349.75 314.13L353.11 314.36Z"/>
<path stroke-linejoin="round" d="M361.83 309.58L362.65 312.85L366.01 312.62L363.16 314.41L364.41 317.54L361.83 315.38L359.24 317.54L360.49 314.41L357.64 312.62L361 312.85Z"/>
<path stroke-linejoin="round" d="M369.71 308.82L370.54 312.09L373.9 311.86L371.04 313.65L372.3 316.78L369.71 314.62L367.13 316.78L368.38 313.65L365.53 311.86L368.89 312.09Z"/>
<path stroke-linejoin="round" d="M377.6 309.07L378.42 312.34L381.78 312.11L378.93 313.91L380.19 317.03L377.6 314.87L375.01 317.03L376.27 313.91L373.42 312.11L376.78 312.34Z"/>
<path stroke-linejoin="round" d="M385.49 310.59L386.31 313.86L389.67 313.63L386.82 315.42L388.07 318.55L385.49 316.39L382.9 318.55L384.16 315.42L381.3 313.63L384.66 313.86Z"/>
<path stroke-linejoin="round" d="M393.38 311.09L394.2 314.36L397.56 314.13L394.71 315.93L395.96 319.05L393.38 316.89L390.79 319.05L392.04 315.93L389.19 314.13L392.55 314.36Z"/>
<path stroke-linejoin="round" d="M401.26 311.09L402.09 314.36L405.45 314.13L402.59 315.93L403.85 319.05L401.26 316.89L398.68 319.05L399.93 315.93L397.08 314.13L400.44 314.36Z"/>
<path stroke-linejoin="round" d="M409.15 310.59L409.97 313.86L413.33 313.63L410.48 315.42L411.74 318.55L409.15 316.39L406.56 318.55L407.82 315.42L404.97 313.63L408.33 313.86Z"/>
<path stroke-linejoin="round" d="M417.04 310.59L417.86 313.86L421.22 313.63L418.37 315.42L419.62 318.55L417.04 316.39L414.45 318.55L415.71 315.42L412.85 313.63L416.21 313.86Z"/>
<path stroke-linejoin="round" d="M424.93 311.35L425.75 314.61L429.11 314.39L426.26 316.18L427.51 319.31L424.93 317.15L422.34 319.31L423.59 316.18L420.74 314.39L424.1 314.61Z"/>
<path stroke-linejoin="round" d="M432.81 311.6L433.64 314.87L437 314.64L434.14 316.43L435.4 319.56L432.81 317.4L430.23 319.56L431.48 316.43L428.63 314.64L431.99 314.87Z"/>
<path stroke-linejoin="round" d="M440.7 311.6L441.52 314.87L444.88 314.64L442.03 316.43L443.29 319.56L440.7 317.4L438.11 319.56L439.37 316.43L436.52 314.64L439.88 314.87Z"/>
<path stroke-linejoin="round" d="M448.59 311.09L449.41 314.36L452.77 314.13L449.92 315.93L451.17 319.05L448.59 316.89L446 319.05L447.26 315.93L444.4 314.13L447.76 314.36Z"/>
<path stroke-linejoin="round" d="M456.48 311.09L457.3 314.36L460.66 314.13L457.81 315.93L459.06 319.05L456.48 316.89L453.89 319.05L455.14 315.93L452.29 314.13L455.65 314.36Z"/>
<path stroke-linejoin="round" d="M464.36 311.35L465.19 314.61L468.55 314.39L465.69 316.18L466.95 319.31L464.36 317.15L461.78 319.31L463.03 316.18L460.18 314.39L463.54 314.61Z"/>
<path stroke-linejoin="round" d="M472.25 311.6L473.07 314.87L476.43 314.64L473.58 316.43L474.84 319.56L472.25 317.4L469.66 319.56L470.92 316.43L468.07 314.64L471.43 314.87Z"/>
<path stroke-linejoin="round" d="M480.14 311.6L480.96 314.87L484.32 314.64L481.47 316.43L482.72 319.56L480.14 317.4L477.55 319.56L478.81 316.43L475.95 314.64L479.31 314.87Z"/>
<path stroke-linejoin="round" d="M488.03 311.6L488.85 314.87L492.21 314.64L489.36 316.43L490.61 319.56L488.03 317.4L485.44 319.56L486.69 316.43L483.84 314.64L487.2 314.87Z"/>
<path stroke-linejoin="round" d="M495.91 311.6L496.74 314.87L500.1 314.64L497.24 316.43L498.5 319.56L495.91 317.4L493.33 319.56L494.58 316.43L491.73 314.64L495.09 314.87Z"/>
<path stroke-linejoin="round" d="M503.8 311.6L504.62 314.87L507.98 314.64L505.13 316.43L506.39 319.56L503.8 317.4L501.21 319.56L502.47 316.43L499.62 314.64L502.98 314.87Z"/>
<path stroke-linejoin="round" d="M511.69 311.6L512.51 314.87L515.87 314.64L513.02 316.43L514.27 319.56L511.69 317.4L509.1 319.56L510.36 316.43L507.5 314.64L510.86 314.87Z"/>
<path stroke-linejoin="round" d="M519.58 311.6L520.4 314.87L523.76 314.64L520.91 316.43L522.16 319.56L519.58 317.4L516.99 319.56L518.24 316.43L515.39 314.64L518.75 314.87Z"/>
<path stroke-linejoin="round" d="M527.46 311.6L528.29 314.87L531.65 314.64L528.79 316.43L530.05 319.56L527.46 317.4L524.88 319.56L526.13 316.43L523.28 314.64L526.64 314.87Z"/>
<path stroke-linejoin="round" d="M535.35 311.6L536.17 314.87L539.53 314.64L536.68 316.43L537.94 319.56L535.35 317.4L532.76 319.56L534.02 316.43L531.17 314.64L534.53 314.87Z"/>
</g></g>
<g>
<polyline fill="none" stroke="#f7c631" stroke-width="1.15" stroke-linejoin="round" points="62.1,316 69.99,316 77.88,315.75 85.76,316 93.65,317.77 101.54,315.49 109.43,318.78 117.31,320.72 125.2,321.05 133.09,320.72 140.97,316.76 148.86,317.01 156.75,320.55 164.64,321.31 172.53,320.55 180.41,317.26 188.3,316 196.19,320.04 204.07,321.31 211.96,320.8 219.85,318.02 227.74,316 235.62,318.27 243.51,319.79 251.4,319.79 259.29,318.02 267.18,316 275.06,317.26 282.95,318.78 290.84,318.78 298.73,318.02 306.61,316.51 314.5,316.51 322.39,317.52 330.28,318.02 338.16,317.26 346.05,316.25 353.94,316.25 361.83,317.01 369.71,317.26 377.6,317.01 385.49,316.51 393.38,316.25 401.26,316.51 409.15,316.76 417.04,316.76 424.93,316.51 432.81,316 440.7,316.25 448.59,316.51 456.48,316.51 464.36,316.25 472.25,316.25 480.14,316.25 488.03,316.25 495.91,316.25 503.8,316.25 511.69,316 519.58,316 527.46,316.25 535.35,316.25"/>
<g fill="#fdeea6" stroke="#f7c631" stroke-width="1.0" stroke-linejoin="miter">
<path d="M62.1 311.3L65.1 316L62.1 320.7L59.1 316Z"/>
<path d="M69.99 311.3L72.99 316L69.99 320.7L66.99 316Z"/>
<path d="M77.88 311.05L80.88 315.75L77.88 320.45L74.88 315.75Z"/>
<path d="M85.76 311.3L88.76 316L85.76 320.7L82.76 316Z"/>
<path d="M93.65 313.07L96.65 317.77L93.65 322.47L90.65 317.77Z"/>
<path d="M101.54 310.79L104.54 315.49L101.54 320.19L98.54 315.49Z"/>
<path d="M109.43 314.08L112.43 318.78L109.43 323.48L106.43 318.78Z"/>
<path d="M117.31 316.02L120.31 320.72L117.31 325.42L114.31 320.72Z"/>
<path d="M125.2 316.35L128.2 321.05L125.2 325.75L122.2 321.05Z"/>
<path d="M133.09 316.02L136.09 320.72L133.09 325.42L130.09 320.72Z"/>
<path d="M140.97 312.06L143.97 316.76L140.97 321.46L137.97 316.76Z"/>
<path d="M148.86 312.31L151.86 317.01L148.86 321.71L145.86 317.01Z"/>
<path d="M156.75 315.85L159.75 320.55L156.75 325.25L153.75 320.55Z"/>
<path d="M164.64 316.61L167.64 321.31L164.64 326.01L161.64 321.31Z"/>
<path d="M172.53 315.85L175.53 320.55L172.53 325.25L169.53 320.55Z"/>
<path d="M180.41 312.56L183.41 317.26L180.41 321.96L177.41 317.26Z"/>
<path d="M188.3 311.3L191.3 316L188.3 320.7L185.3 316Z"/>
<path d="M196.19 315.34L199.19 320.04L196.19 324.74L193.19 320.04Z"/>
<path d="M204.07 316.61L207.07 321.31L204.07 326.01L201.07 321.31Z"/>
<path d="M211.96 316.1L214.96 320.8L211.96 325.5L208.96 320.8Z"/>
<path d="M219.85 313.32L222.85 318.02L219.85 322.72L216.85 318.02Z"/>
<path d="M227.74 311.3L230.74 316L227.74 320.7L224.74 316Z"/>
<path d="M235.62 313.57L238.62 318.27L235.62 322.97L232.62 318.27Z"/>
<path d="M243.51 315.09L246.51 319.79L243.51 324.49L240.51 319.79Z"/>
<path d="M251.4 315.09L254.4 319.79L251.4 324.49L248.4 319.79Z"/>
<path d="M259.29 313.32L262.29 318.02L259.29 322.72L256.29 318.02Z"/>
<path d="M267.18 311.3L270.18 316L267.18 320.7L264.18 316Z"/>
<path d="M275.06 312.56L278.06 317.26L275.06 321.96L272.06 317.26Z"/>
<path d="M282.95 314.08L285.95 318.78L282.95 323.48L279.95 318.78Z"/>
<path d="M290.84 314.08L293.84 318.78L290.84 323.48L287.84 318.78Z"/>
<path d="M298.73 313.32L301.73 318.02L298.73 322.72L295.73 318.02Z"/>
<path d="M306.61 311.81L309.61 316.51L306.61 321.21L303.61 316.51Z"/>
<path d="M314.5 311.81L317.5 316.51L314.5 321.21L311.5 316.51Z"/>
<path d="M322.39 312.82L325.39 317.52L322.39 322.22L319.39 317.52Z"/>
<path d="M330.28 313.32L333.28 318.02L330.28 322.72L327.28 318.02Z"/>
<path d="M338.16 312.56L341.16 317.26L338.16 321.96L335.16 317.26Z"/>
<path d="M346.05 311.55L349.05 316.25L346.05 320.95L343.05 316.25Z"/>
<path d="M353.94 311.55L356.94 316.25L353.94 320.95L350.94 316.25Z"/>
<path d="M361.83 312.31L364.83 317.01L361.83 321.71L358.83 317.01Z"/>
<path d="M369.71 312.56L372.71 317.26L369.71 321.96L366.71 317.26Z"/>
<path d="M377.6 312.31L380.6 317.01L377.6 321.71L374.6 317.01Z"/>
<path d="M385.49 311.81L388.49 316.51L385.49 321.21L382.49 316.51Z"/>
<path d="M393.38 311.55L396.38 316.25L393.38 320.95L390.38 316.25Z"/>
<path d="M401.26 311.81L404.26 316.51L401.26 321.21L398.26 316.51Z"/>
<path d="M409.15 312.06L412.15 316.76L409.15 321.46L406.15 316.76Z"/>
<path d="M417.04 312.06L420.04 316.76L417.04 321.46L414.04 316.76Z"/>
<path d="M424.93 311.81L427.93 316.51L424.93 321.21L421.93 316.51Z"/>
<path d="M432.81 311.3L435.81 316L432.81 320.7L429.81 316Z"/>
<path d="M440.7 311.55L443.7 316.25L440.7 320.95L437.7 316.25Z"/>
<path d="M448.59 311.81L451.59 316.51L448.59 321.21L445.59 316.51Z"/>
<path d="M456.48 311.81L459.48 316.51L456.48 321.21L453.48 316.51Z"/>
<path d="M464.36 311.55L467.36 316.25L464.36 320.95L461.36 316.25Z"/>
<path d="M472.25 311.55L475.25 316.25L472.25 320.95L469.25 316.25Z"/>
<path d="M480.14 311.55L483.14 316.25L480.14 320.95L477.14 316.25Z"/>
<path d="M488.03 311.55L491.03 316.25L488.03 320.95L485.03 316.25Z"/>
<path d="M495.91 311.55L498.91 316.25L495.91 320.95L492.91 316.25Z"/>
<path d="M503.8 311.55L506.8 316.25L503.8 320.95L500.8 316.25Z"/>
<path d="M511.69 311.3L514.69 316L511.69 320.7L508.69 316Z"/>
<path d="M519.58 311.3L522.58 316L519.58 320.7L516.58 316Z"/>
<path d="M527.46 311.55L530.46 316.25L527.46 320.95L524.46 316.25Z"/>
<path d="M535.35 311.55L538.35 316.25L535.35 320.95L532.35 316.25Z"/>
</g></g>
<g>
<polyline fill="none" stroke="#e65a8a" stroke-width="1.15" stroke-linejoin="round" points="62.1,316 69.99,316 77.88,363.25 85.76,365.27 93.65,348.09 101.54,316.76 109.43,335.71 117.31,361.48 125.2,367.04 133.09,350.11 140.97,321.05 148.86,323.83 156.75,348.34 164.64,357.18 172.53,346.83 180.41,325.6 188.3,318.02 196.19,335.96 204.07,345.81 211.96,341.27 219.85,326.11 227.74,316.76 235.62,326.11 243.51,335.46 251.4,334.7 259.29,325.35 267.18,317.26 275.06,320.55 282.95,327.12 290.84,328.89 298.73,324.09 306.61,318.02 314.5,318.78 322.39,323.33 330.28,324.84 338.16,322.57 346.05,318.02 353.94,317.52 361.83,320.3 369.71,322.06 377.6,321.31 385.49,318.78 393.38,317.01 401.26,317.52 409.15,318.65 417.04,318.91 424.93,317.52 432.81,316.25 440.7,316.51 448.59,318.02 456.48,318.02 464.36,317.01 472.25,316.25 480.14,316.25 488.03,316.76 495.91,316.76 503.8,316.76 511.69,316.51 519.58,316.51 527.46,316.51 535.35,316.51"/>
<g fill="#f27aa2" stroke="#e65a8a" stroke-width="1.0" stroke-linejoin="miter">
<circle cx="62.1" cy="316" r="3.55"/>
<circle cx="69.99" cy="316" r="3.55"/>
<circle cx="77.88" cy="363.25" r="3.55"/>
<circle cx="85.76" cy="365.27" r="3.55"/>
<circle cx="93.65" cy="348.09" r="3.55"/>
<circle cx="101.54" cy="316.76" r="3.55"/>
<circle cx="109.43" cy="335.71" r="3.55"/>
<circle cx="117.31" cy="361.48" r="3.55"/>
<circle cx="125.2" cy="367.04" r="3.55"/>
<circle cx="133.09" cy="350.11" r="3.55"/>
<circle cx="140.97" cy="321.05" r="3.55"/>
<circle cx="148.86" cy="323.83" r="3.55"/>
<circle cx="156.75" cy="348.34" r="3.55"/>
<circle cx="164.64" cy="357.18" r="3.55"/>
<circle cx="172.53" cy="346.83" r="3.55"/>
<circle cx="180.41" cy="325.6" r="3.55"/>
<circle cx="188.3" cy="318.02" r="3.55"/>
<circle cx="196.19" cy="335.96" r="3.55"/>
<circle cx="204.07" cy="345.81" r="3.55"/>
<circle cx="211.96" cy="341.27" r="3.55"/>
<circle cx="219.85" cy="326.11" r="3.55"/>
<circle cx="227.74" cy="316.76" r="3.55"/>
<circle cx="235.62" cy="326.11" r="3.55"/>
<circle cx="243.51" cy="335.46" r="3.55"/>
<circle cx="251.4" cy="334.7" r="3.55"/>
<circle cx="259.29" cy="325.35" r="3.55"/>
<circle cx="267.18" cy="317.26" r="3.55"/>
<circle cx="275.06" cy="320.55" r="3.55"/>
<circle cx="282.95" cy="327.12" r="3.55"/>
<circle cx="290.84" cy="328.89" r="3.55"/>
<circle cx="298.73" cy="324.09" r="3.55"/>
<circle cx="306.61" cy="318.02" r="3.55"/>
<circle cx="314.5" cy="318.78" r="3.55"/>
<circle cx="322.39" cy="323.33" r="3.55"/>
<circle cx="330.28" cy="324.84" r="3.55"/>
<circle cx="338.16" cy="322.57" r="3.55"/>
<circle cx="346.05" cy="318.02" r="3.55"/>
<circle cx="353.94" cy="317.52" r="3.55"/>
<circle cx="361.83" cy="320.3" r="3.55"/>
<circle cx="369.71" cy="322.06" r="3.55"/>
<circle cx="377.6" cy="321.31" r="3.55"/>
<circle cx="385.49" cy="318.78" r="3.55"/>
<circle cx="393.38" cy="317.01" r="3.55"/>
<circle cx="401.26" cy="317.52" r="3.55"/>
<circle cx="409.15" cy="318.65" r="3.55"/>
<circle cx="417.04" cy="318.91" r="3.55"/>
<circle cx="424.93" cy="317.52" r="3.55"/>
<circle cx="432.81" cy="316.25" r="3.55"/>
<circle cx="440.7" cy="316.51" r="3.55"/>
<circle cx="448.59" cy="318.02" r="3.55"/>
<circle cx="456.48" cy="318.02" r="3.55"/>
<circle cx="464.36" cy="317.01" r="3.55"/>
<circle cx="472.25" cy="316.25" r="3.55"/>
<circle cx="480.14" cy="316.25" r="3.55"/>
<circle cx="488.03" cy="316.76" r="3.55"/>
<circle cx="495.91" cy="316.76" r="3.55"/>
<circle cx="503.8" cy="316.76" r="3.55"/>
<circle cx="511.69" cy="316.51" r="3.55"/>
<circle cx="519.58" cy="316.51" r="3.55"/>
<circle cx="527.46" cy="316.51" r="3.55"/>
<circle cx="535.35" cy="316.51" r="3.55"/>
</g></g>
<g>
<polyline fill="none" stroke="#7d59ee" stroke-width="1.25" stroke-linejoin="round" points="62.1,316 69.99,316 77.88,379.67 85.76,381.69 93.65,357.18 101.54,317.26 109.43,342.53 117.31,374.37 125.2,381.19 133.09,359.96 140.97,323.83 148.86,326.61 156.75,357.18 164.64,368.05 172.53,355.67 180.41,328.13 188.3,319.54 196.19,342.53 204.07,354.41 211.96,348.59 219.85,330.4 227.74,317.01 235.62,330.4 243.51,341.27 251.4,340.26 259.29,329.39 267.18,317.52 275.06,322.32 282.95,331.41 290.84,333.69 298.73,326.61 306.61,318.78 314.5,319.54 322.39,325.35 330.28,327.62 338.16,324.59 346.05,318.78 353.94,318.02 361.83,321.56 369.71,323.83 377.6,322.82 385.49,319.54 393.38,317.26 401.26,318.2 409.15,319.92 417.04,320.3 424.93,318.2 432.81,316.25 440.7,316.76 448.59,318.91 456.48,318.91 464.36,317.44 472.25,316.51 480.14,316.51 488.03,317.26 495.91,317.26 503.8,317.26 511.69,316.76 519.58,316.76 527.46,317.01 535.35,317.01"/>
<g fill="#e2c3da" stroke="#7d59ee" stroke-width="1.15" stroke-linejoin="miter">
<path d="M62.1 320.5L66.15 313.5L58.05 313.5Z"/>
<path d="M69.99 320.5L74.04 313.5L65.94 313.5Z"/>
<path d="M77.88 384.17L81.92 377.17L73.83 377.17Z"/>
<path d="M85.76 386.19L89.81 379.19L81.71 379.19Z"/>
<path d="M93.65 361.68L97.7 354.68L89.6 354.68Z"/>
<path d="M101.54 321.76L105.59 314.76L97.49 314.76Z"/>
<path d="M109.43 347.03L113.48 340.03L105.38 340.03Z"/>
<path d="M117.31 378.87L121.36 371.87L113.26 371.87Z"/>
<path d="M125.2 385.69L129.25 378.69L121.15 378.69Z"/>
<path d="M133.09 364.46L137.14 357.46L129.04 357.46Z"/>
<path d="M140.97 328.33L145.03 321.33L136.92 321.33Z"/>
<path d="M148.86 331.11L152.91 324.11L144.81 324.11Z"/>
<path d="M156.75 361.68L160.8 354.68L152.7 354.68Z"/>
<path d="M164.64 372.55L168.69 365.55L160.59 365.55Z"/>
<path d="M172.53 360.17L176.58 353.17L168.47 353.17Z"/>
<path d="M180.41 332.63L184.46 325.63L176.36 325.63Z"/>
<path d="M188.3 324.04L192.35 317.04L184.25 317.04Z"/>
<path d="M196.19 347.03L200.24 340.03L192.14 340.03Z"/>
<path d="M204.07 358.91L208.12 351.91L200.02 351.91Z"/>
<path d="M211.96 353.09L216.01 346.09L207.91 346.09Z"/>
<path d="M219.85 334.9L223.9 327.9L215.8 327.9Z"/>
<path d="M227.74 321.51L231.79 314.51L223.69 314.51Z"/>
<path d="M235.62 334.9L239.68 327.9L231.57 327.9Z"/>
<path d="M243.51 345.77L247.56 338.77L239.46 338.77Z"/>
<path d="M251.4 344.76L255.45 337.76L247.35 337.76Z"/>
<path d="M259.29 333.89L263.34 326.89L255.24 326.89Z"/>
<path d="M267.18 322.02L271.23 315.02L263.12 315.02Z"/>
<path d="M275.06 326.82L279.11 319.82L271.01 319.82Z"/>
<path d="M282.95 335.91L287 328.91L278.9 328.91Z"/>
<path d="M290.84 338.19L294.89 331.19L286.79 331.19Z"/>
<path d="M298.73 331.11L302.78 324.11L294.68 324.11Z"/>
<path d="M306.61 323.28L310.66 316.28L302.56 316.28Z"/>
<path d="M314.5 324.04L318.55 317.04L310.45 317.04Z"/>
<path d="M322.39 329.85L326.44 322.85L318.34 322.85Z"/>
<path d="M330.28 332.12L334.33 325.12L326.23 325.12Z"/>
<path d="M338.16 329.09L342.21 322.09L334.11 322.09Z"/>
<path d="M346.05 323.28L350.1 316.28L342 316.28Z"/>
<path d="M353.94 322.52L357.99 315.52L349.89 315.52Z"/>
<path d="M361.83 326.06L365.88 319.06L357.78 319.06Z"/>
<path d="M369.71 328.33L373.76 321.33L365.66 321.33Z"/>
<path d="M377.6 327.32L381.65 320.32L373.55 320.32Z"/>
<path d="M385.49 324.04L389.54 317.04L381.44 317.04Z"/>
<path d="M393.38 321.76L397.43 314.76L389.33 314.76Z"/>
<path d="M401.26 322.7L405.31 315.7L397.21 315.7Z"/>
<path d="M409.15 324.42L413.2 317.42L405.1 317.42Z"/>
<path d="M417.04 324.8L421.09 317.8L412.99 317.8Z"/>
<path d="M424.93 322.7L428.98 315.7L420.88 315.7Z"/>
<path d="M432.81 320.75L436.86 313.75L428.76 313.75Z"/>
<path d="M440.7 321.26L444.75 314.26L436.65 314.26Z"/>
<path d="M448.59 323.41L452.64 316.41L444.54 316.41Z"/>
<path d="M456.48 323.41L460.53 316.41L452.43 316.41Z"/>
<path d="M464.36 321.94L468.41 314.94L460.31 314.94Z"/>
<path d="M472.25 321.01L476.3 314.01L468.2 314.01Z"/>
<path d="M480.14 321.01L484.19 314.01L476.09 314.01Z"/>
<path d="M488.03 321.76L492.08 314.76L483.98 314.76Z"/>
<path d="M495.91 321.76L499.96 314.76L491.86 314.76Z"/>
<path d="M503.8 321.76L507.85 314.76L499.75 314.76Z"/>
<path d="M511.69 321.26L515.74 314.26L507.64 314.26Z"/>
<path d="M519.58 321.26L523.62 314.26L515.53 314.26Z"/>
<path d="M527.46 321.51L531.51 314.51L523.41 314.51Z"/>
<path d="M535.35 321.51L539.4 314.51L531.3 314.51Z"/>
</g></g>
<g class="tk">
<text transform="translate(62.1 413.35) scale(1 1.03)" class="tkl" text-anchor="middle">0</text>
<text transform="translate(140.97 413.35) scale(1 1.03)" class="tkl" text-anchor="middle">10</text>
<text transform="translate(219.85 413.35) scale(1 1.03)" class="tkl" text-anchor="middle">20</text>
<text transform="translate(298.73 413.35) scale(1 1.03)" class="tkl" text-anchor="middle">30</text>
<text transform="translate(377.6 413.35) scale(1 1.03)" class="tkl" text-anchor="middle">40</text>
<text transform="translate(456.48 413.35) scale(1 1.03)" class="tkl" text-anchor="middle">50</text>
<text transform="translate(535.35 413.35) scale(1 1.03)" class="tkl" text-anchor="middle">60</text>
<text transform="translate(56.7 246.5) scale(1 1.03)" class="tkl" text-anchor="end">0.3</text>
<text transform="translate(56.7 322.3) scale(1 1.03)" class="tkl" text-anchor="end">0</text>
<text transform="translate(56.7 398.1) scale(1 1.03)" class="tkl" text-anchor="end">-0.3</text>
</g>
<text transform="translate(21.6 320.3) rotate(-90) scale(1 1.04)" class="lab" text-anchor="middle">I<tspan class="sub" dy="9.2">3</tspan><tspan dy="-9.2">(A,B,C)</tspan></text>
<text transform="translate(3.9 246.1) scale(1 1.02)" class="pl">(b)</text>
<line x1="86" y1="224.4" x2="112.4" y2="224.4" stroke="#2f8c69" stroke-width="1.15"/><g fill="#53c49c" stroke="#2f8c69" stroke-width="1"><rect x="96.55" y="221.75" width="5.3" height="5.3"/></g>
<line x1="160" y1="224.4" x2="186" y2="224.4" stroke="#2389dc" stroke-width="1.15"/><g fill="#b4cdf6" stroke="#2389dc" stroke-width="1"><path stroke-linejoin="round" d="M173 220L173.82 223.27L177.18 223.04L174.33 224.83L175.59 227.96L173 225.8L170.41 227.96L171.67 224.83L168.82 223.04L172.18 223.27Z"/></g>
<line x1="248.2" y1="224.4" x2="274.5" y2="224.4" stroke="#f7c631" stroke-width="1.15"/><g fill="#fdeea6" stroke="#f7c631" stroke-width="1"><path d="M261.35 219.7L264.35 224.4L261.35 229.1L258.35 224.4Z"/></g>
<line x1="336.5" y1="224.4" x2="362.4" y2="224.4" stroke="#e65a8a" stroke-width="1.15"/><g fill="#f27aa2" stroke="#e65a8a" stroke-width="1"><circle cx="349.45" cy="224.4" r="3.55"/></g>
<line x1="433.3" y1="224.4" x2="459.6" y2="224.4" stroke="#7d59ee" stroke-width="1.15"/><g fill="#e2c3da" stroke="#7d59ee" stroke-width="1"><path d="M446.45 228.9L450.5 221.9L442.4 221.9Z"/></g>
<g class="lg">
<text transform="translate(120 231.4)"><tspan class="gk">δϕ</tspan>=0</text>
<text transform="translate(193.3 231.4)"><tspan class="gk">δϕ</tspan>=<tspan class="gk pi" dx="0.7">π</tspan>/6</text>
<text transform="translate(281.9 231.4)"><tspan class="gk">δϕ</tspan>=<tspan class="gk pi" dx="0.7">π</tspan>/3</text>
<text transform="translate(369.7 231.4)"><tspan class="gk">δϕ</tspan>=2<tspan class="gk pi" dx="0.7">π</tspan>/3</text>
<text transform="translate(466.9 231.4)"><tspan class="gk">δϕ</tspan>=<tspan class="gk pi" dx="0.7">π</tspan></text>
</g>
<text transform="translate(301.6 437.8) scale(1 1.04)" class="lab" text-anchor="middle">L</text>
</svg>
</body>
</html>
